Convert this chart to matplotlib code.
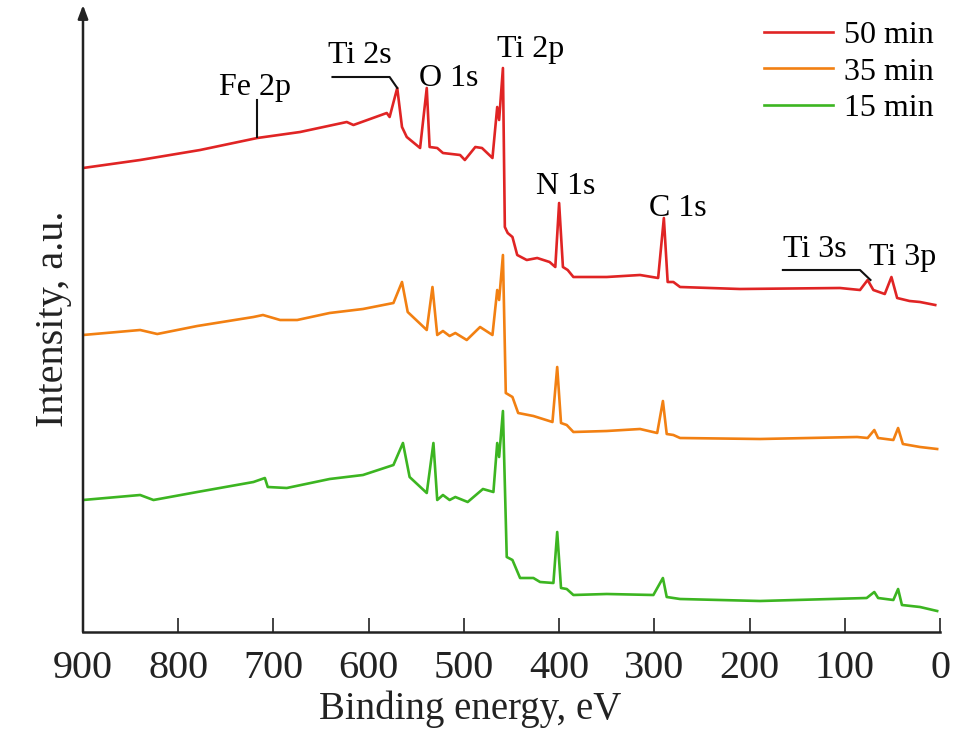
import numpy as np
import matplotlib.pyplot as plt

# XPS survey spectra (binding energy in eV, intensity in a.u.)
e_50 = [900, 840, 777, 717, 672, 623, 616, 581, 578, 570, 565, 560, 546, 539, 536, 528, 522,
        504, 499, 488, 481, 470, 465, 463, 459, 457, 454, 449, 444, 434, 423, 410, 404, 400,
        396, 391, 385, 350, 315, 296, 290, 286, 280, 273, 210, 105, 84, 76, 70, 58, 51, 45,
        32, 21, 5]
i_50 = [464, 472, 482, 494, 500, 510, 507, 519, 515, 544, 505, 495, 484, 544, 485, 484, 479,
        477, 472, 485, 484, 474, 525, 512, 564, 405, 399, 395, 377, 372, 374, 370, 365, 429,
        365, 362, 355, 355, 357, 354, 414, 350, 350, 345, 343, 344, 342, 352, 342, 338, 355,
        334, 331, 330, 327]

e_35 = [900, 840, 822, 780, 721, 711, 693, 675, 641, 606, 574, 565, 559, 539, 533, 528, 522,
        515, 509, 497, 483, 470, 465, 463, 459, 456, 449, 443, 427, 407, 402, 398, 392, 385,
        350, 315, 297, 291, 287, 280, 273, 189, 87, 76, 69, 65, 49, 44, 39, 21, 3]
i_35 = [297, 302, 298, 306, 315, 317, 312, 312, 319, 323, 329, 350, 320, 302, 345, 297, 301,
        296, 299, 292, 305, 297, 342, 332, 377, 239, 235, 219, 216, 210, 265, 209, 207, 200,
        201, 203, 199, 231, 198, 197, 194, 193, 195, 194, 202, 194, 192, 204, 188, 185, 183]

e_15 = [900, 840, 826, 780, 721, 709, 706, 686, 641, 606, 574, 564, 557, 539, 532, 528, 522,
        515, 509, 496, 480, 469, 465, 463, 459, 455, 449, 441, 427, 420, 406, 402, 398, 392,
        385, 350, 301, 291, 287, 273, 189, 77, 69, 65, 49, 44, 40, 21, 3]
i_15 = [132, 137, 132, 140, 150, 154, 145, 144, 153, 157, 167, 189, 155, 139, 189, 132, 137,
        132, 135, 130, 143, 140, 189, 175, 221, 75, 72, 54, 54, 50, 49, 100, 44, 43,
        37, 38, 37, 54, 35, 33, 31, 34, 40, 34, 32, 43, 27, 25, 21]

labels = ['50 min', '35 min', '15 min']
colors = ['#e02424', '#f28012', '#3cb521']
xticks = [900, 800, 700, 600, 500, 400, 300, 200, 100, 0]

plt.rcParams['font.family'] = ['Liberation Serif', 'DejaVu Serif']

fig = plt.figure(figsize=(9.77, 7.45), dpi=100)
ax = fig.add_axes([83 / 977, 113 / 745, 857 / 977, 627 / 745])

for e, i, lab, c in zip([e_50, e_35, e_15], [i_50, i_35, i_15], labels, colors):
    ax.plot(e, i, color=c, lw=1.9, label=lab, solid_joinstyle='round')

ax.set_xlim(900, 0)
ax.set_ylim(0, 627)
ax.set_xticks(xticks)
ax.set_yticks([])
ax.tick_params(axis='x', direction='in', length=10, width=1.2, labelsize=29, pad=13,
               colors='#222222')
for s in ['top', 'right', 'left']:
    ax.spines[s].set_visible(False)
ax.spines['bottom'].set_linewidth(1.8)
ax.spines['bottom'].set_color('#222222')
ax.annotate('', xy=(0, 1.0), xytext=(0, 0), xycoords='axes fraction',
            arrowprops=dict(arrowstyle='-|>,head_length=0.8,head_width=0.3', lw=1.8,
                            color='#222222', shrinkA=0, shrinkB=0))

ax.set_xlabel('Binding energy, eV', fontsize=28, color='#222222')
ax.xaxis.set_label_coords(0.452, -0.094, transform=ax.transAxes)
ax.xaxis.label.set_va('top')
ax.set_ylabel('Intensity, a.u.', fontsize=29, labelpad=8, color='#222222')

# peak labels
fs = 23
ax.text(719, 545, 'Fe 2p', fontsize=fs, ha='center', va='center')
ax.plot([717, 717], [532, 495], color='#111111', lw=1.5)
ax.text(609, 577, 'Ti 2s', fontsize=fs, ha='center', va='center')
ax.plot([638, 578, 570], [555, 555, 544], color='#111111', lw=1.5)
ax.text(516, 554, 'O 1s', fontsize=fs, ha='center', va='center')
ax.text(430, 583, 'Ti 2p', fontsize=fs, ha='center', va='center')
ax.text(393, 446, 'N 1s', fontsize=fs, ha='center', va='center')
ax.text(275, 424, 'C 1s', fontsize=fs, ha='center', va='center')
ax.text(131, 383, 'Ti 3s', fontsize=fs, ha='center', va='center')
ax.plot([165, 84, 73], [362, 362, 352], color='#111111', lw=1.5)
ax.text(39, 375, 'Ti 3p', fontsize=fs, ha='center', va='center')

ax.legend(loc='upper right', bbox_to_anchor=(1.0, 0.985), frameon=False, fontsize=23,
          handlelength=2.15, handletextpad=0.35, labelspacing=0.22, borderpad=0.2,
          borderaxespad=0.0)

fig.savefig('out.png', dpi=100)
